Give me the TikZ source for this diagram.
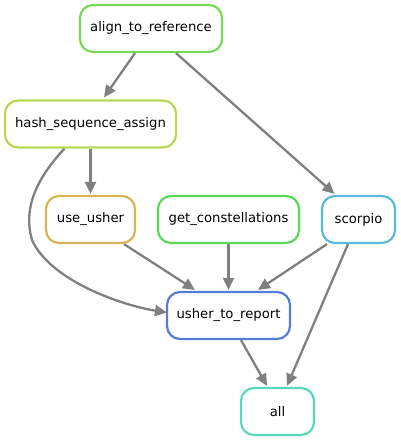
\documentclass[tikz,border=0pt]{standalone}
\usepackage{fontspec}
\setmainfont{DejaVu Sans}
\usetikzlibrary{arrows.meta}
\definecolor{cAtr}{RGB}{121,217,87}
\definecolor{cHsa}{RGB}{183,217,87}
\definecolor{cUse}{RGB}{217,181,87}
\definecolor{cGet}{RGB}{89,217,87}
\definecolor{cSco}{RGB}{87,186,217}
\definecolor{cUtr}{RGB}{87,123,217}
\definecolor{cAll}{RGB}{87,217,186}
\definecolor{edgegray}{RGB}{128,128,128}
\tikzset{
  rule/.style={draw, line width=2.2pt, rounded corners=13pt, fill=white, minimum height=47pt, inner sep=0pt, font=\fontsize{13.2}{16}\selectfont, text=black},
  edge/.style={draw=edgegray, line width=2.3pt, -{Triangle[length=12pt,width=11pt]}}
}
\begin{document}
\begin{tikzpicture}[x=1pt,y=-1pt]
\useasboundingbox[fill=white] (0,0) rectangle (400,441);
\node[rule, draw=cAtr, minimum width=142pt] (atr) at (151,28.5) {align\_to\_reference};
\node[rule, draw=cHsa, minimum width=171pt] (hsa) at (90.5,124) {hash\_sequence\_assign};
\node[rule, draw=cUse, minimum width=89pt] (use) at (90.5,219.5) {use\_usher};
\node[rule, draw=cGet, minimum width=141pt] (get) at (228.5,219.5) {get\_constellations};
\node[rule, draw=cSco, minimum width=73pt] (sco) at (358.5,219.5) {scorpio};
\node[rule, draw=cUtr, minimum width=123pt] (utr) at (228.5,315.5) {usher\_to\_report};
\node[rule, draw=cAll, minimum width=73pt] (all) at (277.5,411.5) {all};

\draw[edge] ([xshift=-16pt]atr.south) -- ([xshift=13.5pt,yshift=2pt]hsa.north);
\draw[edge] ([xshift=25pt]atr.south) -- ([xshift=-24pt,yshift=1pt]sco.north);
\draw[edge] (hsa.south) -- ([yshift=1pt]use.north);
\draw[edge] ([xshift=-26pt]hsa.south) .. controls (40,175) and (22,205) .. (32,240) .. controls (50,280) and (120,305) .. ([yshift=3pt,xshift=1pt]utr.west);
\draw[edge] ([xshift=33.5pt]use.south) -- ([xshift=-33.5pt,yshift=1pt]utr.north);
\draw[edge] (get.south) -- ([yshift=1pt]utr.north);
\draw[edge] ([xshift=-31.5pt]sco.south) -- ([xshift=29.5pt,yshift=1pt]utr.north);
\draw[edge] ([xshift=-10.5pt]sco.south) -- ([xshift=9.5pt,yshift=1pt]all.north);
\draw[edge] ([xshift=12.5pt]utr.south) -- ([xshift=-10.5pt,yshift=1pt]all.north);
\end{tikzpicture}
\end{document}
